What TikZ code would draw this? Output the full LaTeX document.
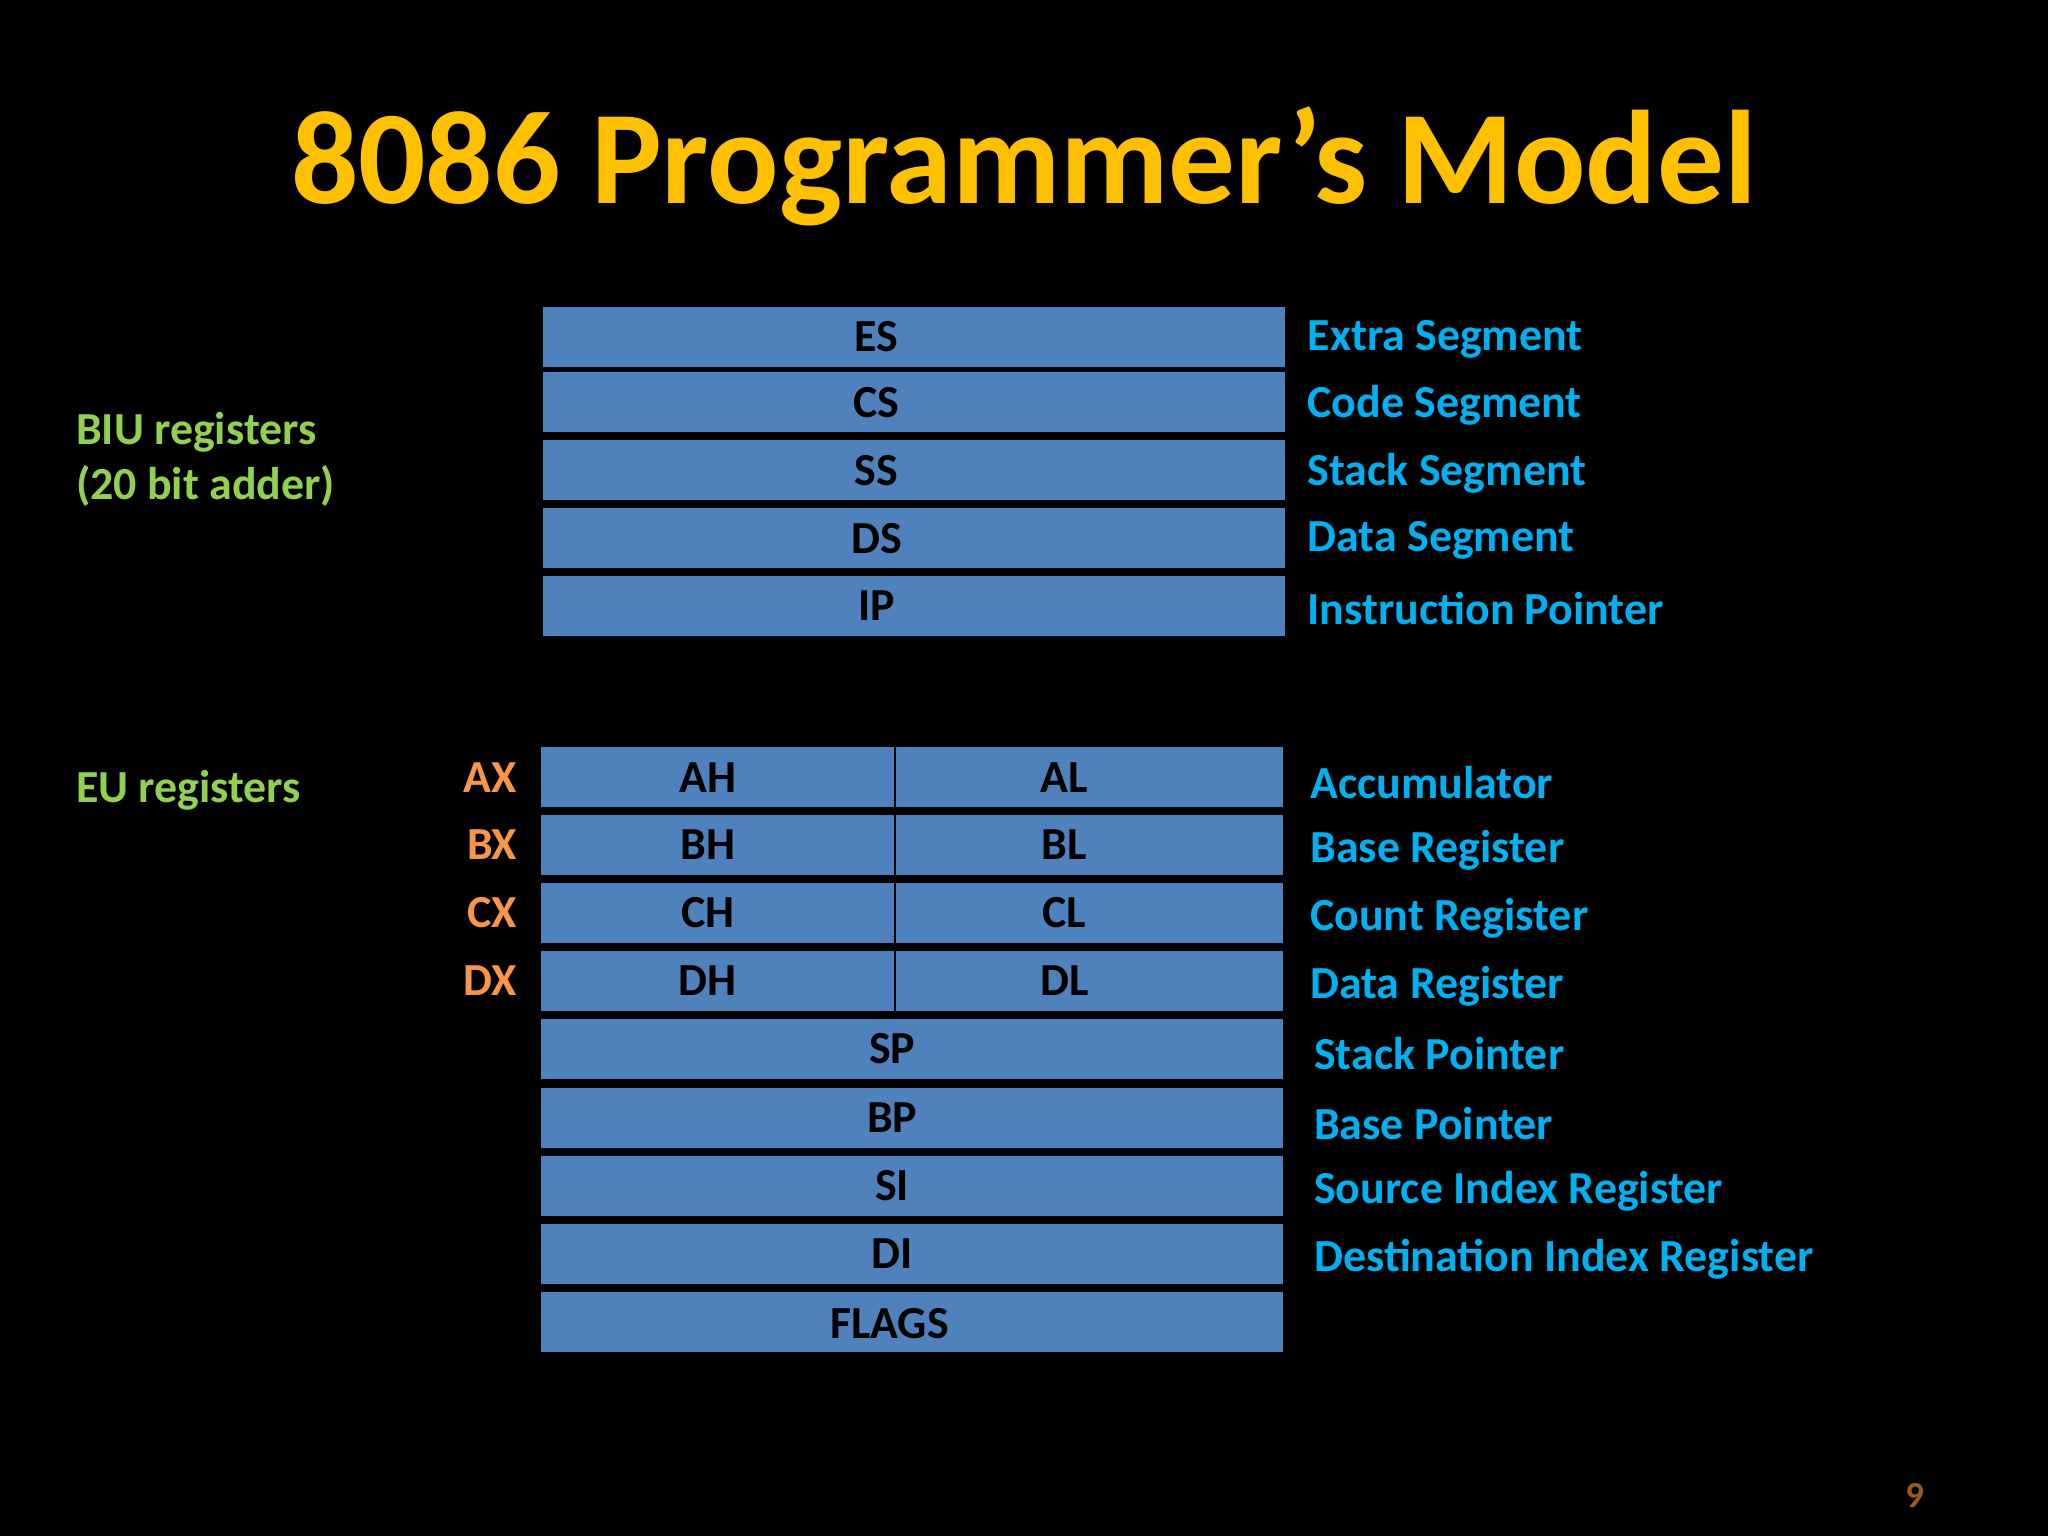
\documentclass[tikz,border=0pt]{standalone}
\usepackage{fontspec}
\setmainfont{Carlito}
\begin{document}
\begin{tikzpicture}[x=0.02cm,y=-0.02cm,
  reg/.style={fill=regblue,draw=black,line width=1pt,inner sep=0},
  rt/.style={font=\bfseries\fontsize{20}{22}\selectfont,text=black},
  lbl/.style={font=\bfseries\fontsize{20}{22}\selectfont,text=lblblue,anchor=west},
  grp/.style={font=\bfseries\fontsize{20}{24}\selectfont,text=grpgreen,anchor=west,align=left},
  xl/.style={font=\bfseries\fontsize{20}{22}\selectfont,text=xorange,anchor=east}]
\definecolor{regblue}{HTML}{4F81BD}
\definecolor{lblblue}{HTML}{00B0F0}
\definecolor{grpgreen}{HTML}{92D050}
\definecolor{xorange}{HTML}{F79646}
\definecolor{ttl}{HTML}{FFC000}
\definecolor{pg}{HTML}{9C5B1B}
\fill[black] (0,0) rectangle (1568,1176);
\useasboundingbox (0,0) rectangle (1568,1176);
\node[font=\bfseries\fontsize{58}{62}\selectfont,text=ttl] (title) at (784,127) {8086 Programmer’s Model};
% BIU
\foreach \n/\t/\ya/\yb/\d in {es/ES/234/282/Extra Segment, cs/CS/284/332/Code Segment, ss/SS/336/384/Stack Segment, ds/DS/388/436/Data Segment, ip/IP/440/488/Instruction Pointer}{
  \draw[reg] (415,\ya) rectangle (985,\yb);
  \node[rt] (\n) at (671,{(\ya+\yb)/2}) {\t};
  \node[lbl] (\n l) at (995,{(\ya+\yb)/2+2}) {\d};
}
\node[grp] (biu) at (52,352) {BIU registers\\(20 bit adder)};
\node[grp] (eu) at (52,605) {EU registers};
% EU split
\foreach \n/\h/\l/\x/\ya/\yb/\d in {ax/AH/AL/AX/571/619/Accumulator, bx/BH/BL/BX/623/671/Base Register, cx/CH/CL/CX/675/723/Count Register, dx/DH/DL/DX/727/775/Data Register}{
  \draw[reg] (413,\ya) rectangle (983,\yb);
  \draw[black,line width=1pt] (685,\ya) -- (685,\yb);
  \node[rt] (\n h) at (542,{(\ya+\yb)/2}) {\h};
  \node[rt] (\n lo) at (815,{(\ya+\yb)/2}) {\l};
  \node[xl] (\n x) at (402,{(\ya+\yb)/2}) {\x};
  \node[lbl] (\n l) at (997,{(\ya+\yb)/2+4}) {\d};
}
\foreach \n/\t/\ya/\yb/\d in {sp/SP/779/827/Stack Pointer, bp/BP/832/880/Base Pointer, si/SI/884/932/Source Index Register, di/DI/936/984/Destination Index Register}{
  \draw[reg] (413,\ya) rectangle (983,\yb);
  \node[rt] (\n) at (683,{(\ya+\yb)/2}) {\t};
  \node[lbl] (\n l) at (1000,{(\ya+\yb)/2+4}) {\d};
}
\draw[reg] (413,988) rectangle (983,1036);
\node[rt] (flags) at (681,1013) {FLAGS};
\node[font=\bfseries\fontsize{16}{18}\selectfont,text=pg] (pnum) at (1466,1145) {9};
\end{tikzpicture}
\end{document}
